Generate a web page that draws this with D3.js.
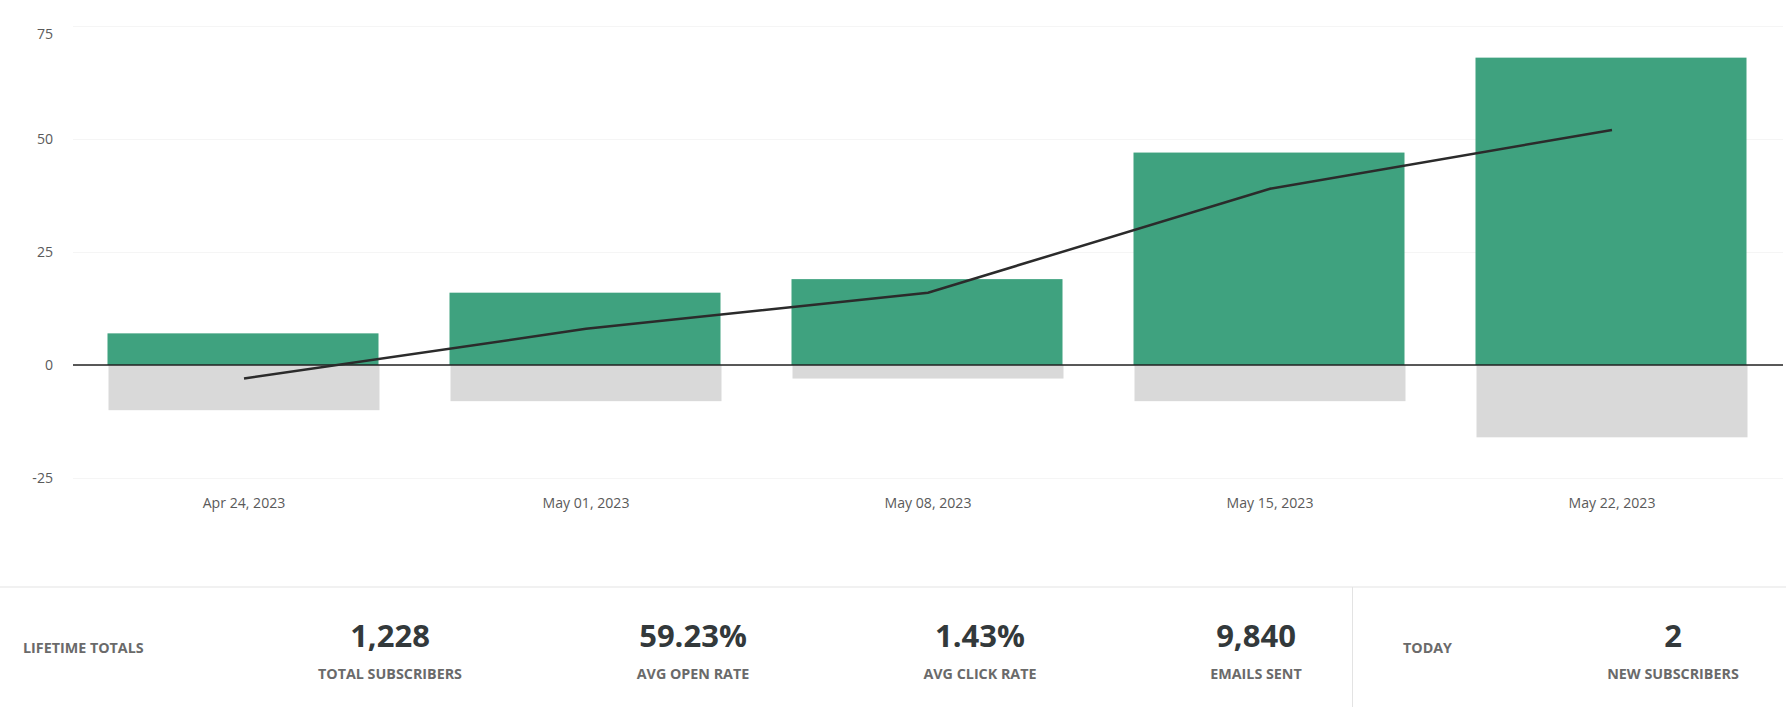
<!DOCTYPE html>
<html lang="en">
  <head>
    <meta charset="UTF-8" />
    <title>Subscribers</title>
    <script src="https://d3js.org/d3.v7.min.js"></script>
    <style>
      body {
        margin: 0;
        background: #fff;
        font-family: "Open Sans", sans-serif;
      }
      .tick text {
        font-family: "Open Sans", sans-serif;
        font-size: 14.1px;
        fill: #5a5a5a;
      }
      .total {
        font-size: 31px;
        font-weight: 700;
        fill: #33393b;
        text-anchor: middle;
      }
      .caption {
        font-size: 14.3px;
        font-weight: 700;
        fill: #6a6a6a;
      }
    </style>
  </head>
  <body>
    <svg width="1786" height="707"></svg>
    <script>
      const svg = d3.select("svg");

      const data = [
        { week: "Apr 24, 2023", added: 7, removed: -10, net: -3 },
        { week: "May 01, 2023", added: 16, removed: -8, net: 8 },
        { week: "May 08, 2023", added: 19, removed: -3, net: 16 },
        { week: "May 15, 2023", added: 47, removed: -8, net: 39 },
        { week: "May 22, 2023", added: 68, removed: -16, net: 52 },
      ];

      const totals = [
        { value: "1,228", label: "TOTAL SUBSCRIBERS", x: 390 },
        { value: "59.23%", label: "AVG OPEN RATE", x: 693 },
        { value: "1.43%", label: "AVG CLICK RATE", x: 980 },
        { value: "9,840", label: "EMAILS SENT", x: 1256 },
        { value: "2", label: "NEW SUBSCRIBERS", x: 1673 },
      ];

      const x = d3
        .scaleBand()
        .domain(data.map((d) => d.week))
        .range([72, 1782])
        .paddingInner(0.2076)
        .paddingOuter(0.1038);

      const y = d3.scaleLinear().domain([-25, 75]).range([478, 26]);

      // grid and y labels
      const yAxis = svg
        .append("g")
        .attr("transform", "translate(73,0)")
        .call(
          d3
            .axisLeft(y)
            .tickValues([-25, 0, 25, 50, 75])
            .tickSize(-1710)
            .tickPadding(20)
            .tickFormat((d) => d)
        );
      yAxis.select(".domain").remove();
      yAxis.selectAll(".tick line").attr("stroke", "#f5f5f5");
      yAxis
        .selectAll(".tick text")
        .attr("dy", (d) => (d === 75 ? "0.85em" : "0.32em"));

      const xAxis = svg
        .append("g")
        .attr("transform", "translate(1,478)")
        .call(d3.axisBottom(x).tickSize(0).tickPadding(20));
      xAxis.select(".domain").remove();

      // removed bars sit a little to the right of the added ones
      svg
        .append("g")
        .selectAll("rect")
        .data(data)
        .enter()
        .append("rect")
        .attr("x", (d) => x(d.week) + 1)
        .attr("y", y(0))
        .attr("width", x.bandwidth())
        .attr("height", (d) => y(d.removed) - y(0))
        .attr("fill", "#d9d9d9");

      svg
        .append("g")
        .selectAll("rect")
        .data(data)
        .enter()
        .append("rect")
        .attr("x", (d) => x(d.week))
        .attr("y", (d) => y(d.added))
        .attr("width", x.bandwidth())
        .attr("height", (d) => y(0) - y(d.added))
        .attr("fill", "#3fa27f");

      svg
        .append("line")
        .attr("x1", 73)
        .attr("x2", 1783)
        .attr("y1", y(0))
        .attr("y2", y(0))
        .attr("stroke", "#222")
        .attr("stroke-width", 1.5);

      const line = d3
        .line()
        .x((d) => x(d.week) + x.bandwidth() / 2 + 1)
        .y((d) => y(d.net));

      svg
        .append("path")
        .datum(data)
        .attr("d", line)
        .attr("fill", "none")
        .attr("stroke", "#2b2b2b")
        .attr("stroke-width", 2.5);

      // totals strip
      svg
        .append("line")
        .attr("x1", 0)
        .attr("x2", 1786)
        .attr("y1", 587)
        .attr("y2", 587)
        .attr("stroke", "#e3e3e3")
        .attr("stroke-width", 1);
      svg
        .append("line")
        .attr("x1", 1352.5)
        .attr("x2", 1352.5)
        .attr("y1", 587)
        .attr("y2", 707)
        .attr("stroke", "#e3e3e3")
        .attr("stroke-width", 1);

      svg
        .append("text")
        .attr("class", "caption")
        .attr("x", 23)
        .attr("y", 652.5)
        .text("LIFETIME TOTALS");
      svg
        .append("text")
        .attr("class", "caption")
        .attr("x", 1403)
        .attr("y", 652.5)
        .text("TODAY");

      const total = svg.append("g").selectAll("g").data(totals).enter().append("g");
      total
        .append("text")
        .attr("class", "total")
        .attr("x", (d) => d.x)
        .attr("y", 647)
        .text((d) => d.value);
      total
        .append("text")
        .attr("class", "caption")
        .attr("text-anchor", "middle")
        .attr("x", (d) => d.x)
        .attr("y", 679)
        .text((d) => d.label);
    </script>
  </body>
</html>
